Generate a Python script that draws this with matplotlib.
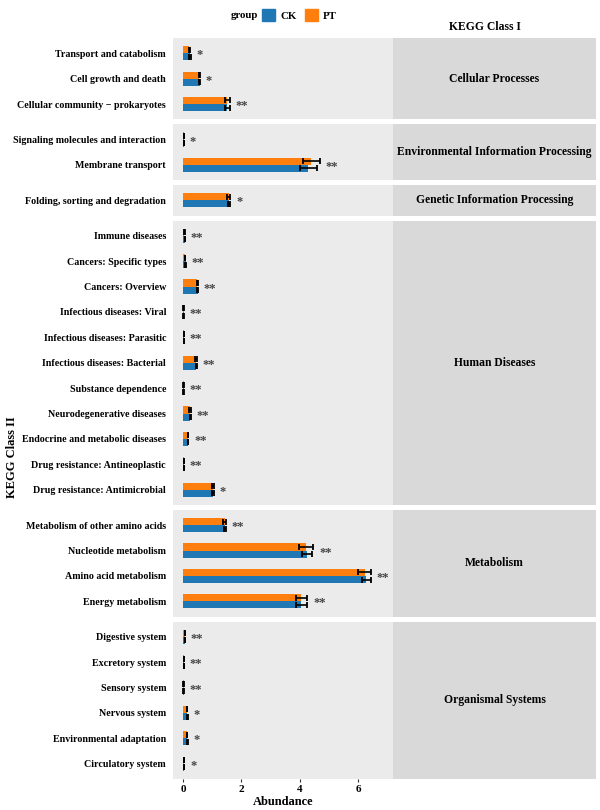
import matplotlib
matplotlib.use("Agg")
import matplotlib.pyplot as plt
from matplotlib.patches import Patch

plt.rcParams["font.family"] = ["Liberation Serif", "DejaVu Serif"]
plt.rcParams["font.weight"] = "bold"

# KEGG Class I facets, top to bottom
class1 = [
    "Cellular Processes",
    "Environmental Information Processing",
    "Genetic Information Processing",
    "Human Diseases",
    "Metabolism",
    "Organismal Systems",
]

# KEGG Class II pathways per facet
class2 = [
    ["Transport and catabolism", "Cell growth and death", "Cellular community \u2212 prokaryotes"],
    ["Signaling molecules and interaction", "Membrane transport"],
    ["Folding, sorting and degradation"],
    ["Immune diseases", "Cancers: Specific types", "Cancers: Overview",
     "Infectious diseases: Viral", "Infectious diseases: Parasitic",
     "Infectious diseases: Bacterial", "Substance dependence",
     "Neurodegenerative diseases", "Endocrine and metabolic diseases",
     "Drug resistance: Antineoplastic", "Drug resistance: Antimicrobial"],
    ["Metabolism of other amino acids", "Nucleotide metabolism",
     "Amino acid metabolism", "Energy metabolism"],
    ["Digestive system", "Excretory system", "Sensory system",
     "Nervous system", "Environmental adaptation", "Circulatory system"],
]

ck_mean = [
    [0.24, 0.57, 1.52],
    [0.03, 4.29],
    [1.58],
    [0.06, 0.09, 0.50, 0.02, 0.03, 0.46, 0.02, 0.25, 0.18, 0.03, 1.03],
    [1.44, 4.25, 6.29, 4.06],
    [0.07, 0.03, 0.02, 0.15, 0.15, 0.04],
]
pt_mean = [
    [0.22, 0.56, 1.52],
    [0.03, 4.40],
    [1.57],
    [0.05, 0.08, 0.49, 0.02, 0.03, 0.45, 0.02, 0.24, 0.17, 0.03, 1.02],
    [1.43, 4.23, 6.23, 4.06],
    [0.07, 0.03, 0.02, 0.14, 0.14, 0.04],
]
ck_sd = [
    [0.02, 0.02, 0.09],
    [0.003, 0.29],
    [0.05],
    [0.005, 0.006, 0.02, 0.002, 0.002, 0.02, 0.002, 0.02, 0.01, 0.003, 0.04],
    [0.04, 0.17, 0.15, 0.18],
    [0.005, 0.003, 0.002, 0.01, 0.01, 0.003],
]
pt_sd = [
    [0.02, 0.02, 0.09],
    [0.003, 0.30],
    [0.05],
    [0.005, 0.006, 0.02, 0.002, 0.002, 0.02, 0.002, 0.02, 0.01, 0.003, 0.04],
    [0.04, 0.24, 0.22, 0.20],
    [0.005, 0.003, 0.002, 0.01, 0.01, 0.003],
]
signif = [
    ["*", "*", "**"],
    ["*", "**"],
    ["*"],
    ["**"] * 10 + ["*"],
    ["**", "**", "**", "**"],
    ["**", "**", "**", "*", "*", "*"],
]

CK_COL = "#1f77b4"
PT_COL = "#ff7f0e"
PANEL_BG = "#ebebeb"
STRIP_BG = "#d9d9d9"

W, H = 600, 810
fig = plt.figure(figsize=(6, 8.1), dpi=100)

# layout in pixels
left, right, strip_right = 173, 393, 596
top, bottom, gap = 38, 779, 5
units = [len(c) + 0.2 for c in class2]
px_per_unit = (bottom - top - gap * (len(class2) - 1)) / sum(units)

y0 = top
for k, name in enumerate(class1):
    h = units[k] * px_per_unit
    rect = [left / W, 1 - (y0 + h) / H, (right - left) / W, h / H]
    ax = fig.add_axes(rect)
    sax = fig.add_axes([right / W, rect[1], (strip_right - right) / W, h / H])
    y0 += h + gap

    n = len(class2[k])
    ys = [n - 1 - i for i in range(n)]
    bh = 0.28
    ax.barh([y - bh / 2 for y in ys], ck_mean[k], height=bh, color=CK_COL, zorder=2)
    ax.barh([y + bh / 2 for y in ys], pt_mean[k], height=bh, color=PT_COL, zorder=2)
    ax.errorbar(ck_mean[k], [y - bh / 2 for y in ys], xerr=ck_sd[k], fmt="none",
                ecolor="black", elinewidth=1.2, capsize=2.3, capthick=1.3, zorder=3)
    ax.errorbar(pt_mean[k], [y + bh / 2 for y in ys], xerr=pt_sd[k], fmt="none",
                ecolor="black", elinewidth=1.2, capsize=2.3, capthick=1.3, zorder=3)
    for i, y in enumerate(ys):
        xm = max(ck_mean[k][i] + ck_sd[k][i], pt_mean[k][i] + pt_sd[k][i])
        ax.text(xm + 0.2, y - 0.08, signif[k][i], ha="left", va="center",
                fontsize=9, color="#444444")

    ax.set_xlim(-0.34, 7.2)
    ax.set_ylim(-0.6, n - 0.4)
    ax.set_facecolor(PANEL_BG)
    for s in ax.spines.values():
        s.set_visible(False)
    ax.set_yticks(ys)
    ax.set_yticklabels(class2[k], fontsize=7.2, fontweight="bold")
    ax.tick_params(axis="y", length=0, pad=5)
    ax.set_xticks([0, 2, 4, 6])
    if k == len(class1) - 1:
        ax.tick_params(axis="x", length=2.5, color="#333333", labelsize=8, pad=2)
        ax.set_xticklabels(["0", "2", "4", "6"], fontweight="bold")
        ax.set_xlabel("Abundance", fontsize=9, fontweight="bold", labelpad=1)
    else:
        ax.tick_params(axis="x", length=0, labelbottom=False)

    sax.set_facecolor(STRIP_BG)
    sax.set_xticks([])
    sax.set_yticks([])
    for s in sax.spines.values():
        s.set_visible(False)
    sax.text(0.5, 0.5, name, ha="center", va="center", fontsize=8.4,
             fontweight="bold", transform=sax.transAxes)

fig.text(12 / W, 1 - 457 / H, "KEGG Class II", rotation=90, ha="center",
         va="center", fontsize=9, fontweight="bold")
fig.text(485 / W, 1 - 27 / H, "KEGG Class I", ha="center", va="center",
         fontsize=8.4, fontweight="bold")

handles = [Patch(color=CK_COL, label="CK"), Patch(color=PT_COL, label="PT")]
fig.text(258 / W, 1 - 15 / H, "group", ha="right", va="center", fontsize=7.8,
         fontweight="bold")
fig.legend(handles=handles, loc="center left", bbox_to_anchor=(260 / W, 1 - 15 / H),
           ncol=2, frameon=False, fontsize=7.8, handlelength=1.2, handleheight=1.2,
           handletextpad=0.5, columnspacing=0.7, borderaxespad=0, borderpad=0.2)

fig.savefig("out.png", dpi=100)
